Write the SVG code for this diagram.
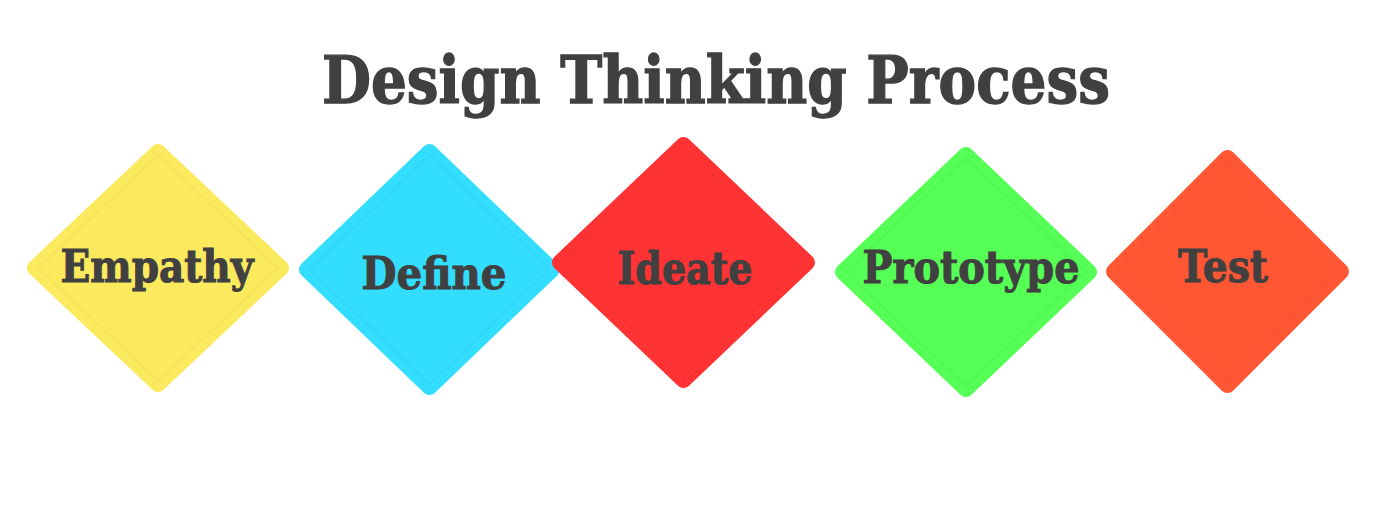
<svg xmlns="http://www.w3.org/2000/svg" width="1400" height="508" viewBox="0 0 1400 508">
<style>
  .dia { stroke-width: 16; stroke-linejoin: round; }
  .edge { fill: none; stroke: #000; stroke-opacity: 0.025; stroke-width: 3; stroke-linejoin: round; }
  .lbl { font-family: "DejaVu Serif", "Liberation Serif", serif; font-weight: bold; fill: #404040; stroke: #404040; stroke-width: 1; text-anchor: middle; }
  .title { font-family: "DejaVu Serif", "Liberation Serif", serif; font-weight: bold; fill: #404040; stroke: #404040; stroke-width: 1.4; font-size: 66px; }
</style>
<rect width="1400" height="508" fill="#ffffff"/>
<g id="title">
  <text class="title" x="322" y="103" textLength="788" lengthAdjust="spacingAndGlyphs">Design Thinking Process</text>
</g>
<g id="connectors"></g>
<g id="empathy">
  <polygon class="dia" fill="#FCEA5E" stroke="#FCEA5E" points="35,268 158,152 281,268 158,384"/>
  <polygon class="edge" points="38,268 158,155 278,268 158,381"/>
  <text class="lbl" x="157" y="282" font-size="44" textLength="193" lengthAdjust="spacingAndGlyphs">Empathy</text>
</g>
<g id="define">
  <polygon class="dia" fill="#33DDFD" stroke="#33DDFD" points="307,269.5 429.5,152 552,269.5 429.5,387"/>
  <polygon class="edge" points="310,269.5 429.5,155 549,269.5 429.5,384"/>
  <text class="lbl" x="434" y="289" font-size="44" textLength="145" lengthAdjust="spacingAndGlyphs">Define</text>
</g>
<g id="ideate">
  <polygon class="dia" fill="#FF3333" stroke="#FF3333" points="560,262.5 683.5,145 807,262.5 683.5,380"/>
  <polygon class="edge" points="563,262.5 683.5,148 804,262.5 683.5,377"/>
  <text class="lbl" x="685" y="284" font-size="44" textLength="135" lengthAdjust="spacingAndGlyphs">Ideate</text>
</g>
<g id="prototype">
  <polygon class="dia" fill="#55FF55" stroke="#55FF55" points="843,272 966,155 1089,272 966,389"/>
  <polygon class="edge" points="846,272 966,158 1086,272 966,386"/>
  <text class="lbl" x="971" y="283" font-size="44" textLength="217" lengthAdjust="spacingAndGlyphs">Prototype</text>
</g>
<g id="test">
  <polygon class="dia" fill="#FF5733" stroke="#FF5733" points="1114,271.5 1227.5,158 1341,271.5 1227.5,385"/>
  <polygon class="edge" points="1117,271.5 1227.5,161 1338,271.5 1227.5,382"/>
  <text class="lbl" x="1223" y="282" font-size="44" textLength="90" lengthAdjust="spacingAndGlyphs">Test</text>
</g>
</svg>
